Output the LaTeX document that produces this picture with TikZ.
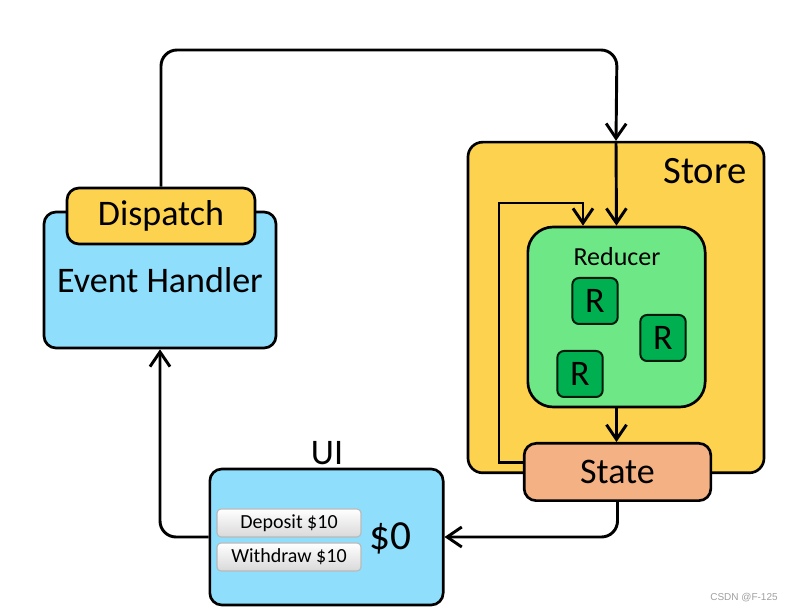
\documentclass[tikz,border=0pt]{standalone}
\usepackage{fontspec}
\setmainfont{Carlito}
\newfontfamily\wmfont{Liberation Sans}
\usetikzlibrary{arrows.meta}
\definecolor{ehblue}{HTML}{8EDEFC}
\definecolor{dispyellow}{HTML}{FDD24E}
\definecolor{redgreen}{HTML}{6EE886}
\definecolor{rdark}{HTML}{00B050}
\definecolor{stateorange}{HTML}{F4B183}
\begin{document}
\begin{tikzpicture}[x=0.75pt, y=-0.75pt,
    box/.style={draw, line width=2pt, rounded corners=9pt, inner sep=0pt},
    flow/.style={line width=2.2pt, rounded corners=12pt, -{Straight Barb[length=11pt,width=15pt]}},
    btn/.style={draw=gray!55, line width=0.8pt, rounded corners=3pt, top color=white, bottom color=gray!30,
        minimum width=108pt, minimum height=21pt, inner sep=0pt, font=\fontsize{15}{18}\selectfont},
    rbox/.style={box, fill=rdark, draw=black!85!rdark, line width=1.5pt, rounded corners=5pt,
        minimum width=34pt, minimum height=34.5pt, font=\fontsize{27}{30}\selectfont},
    big/.style={font=\fontsize{27}{30}\selectfont}]
    \useasboundingbox (0,0) rectangle (794,613);

    % Boxes (left side)
    \node[box, fill=ehblue, big, minimum width=174pt, minimum height=102pt] (eh) at (160,280) {Event Handler};
    \node[box, fill=dispyellow, big, minimum width=141pt, minimum height=42pt] (dispatch) at (161,216) {Dispatch};
    \node[box, fill=ehblue, minimum width=175pt, minimum height=102pt] (ui) at (326.5,537) {};
    \node[big] (uilabel) at (327,453) {UI};
    \node[btn] (deposit) at (289,523) {Deposit \$10};
    \node[btn] (withdraw) at (289,557) {Withdraw \$10};
    \node[font=\fontsize{31}{34}\selectfont] (balance) at (390,538) {\$0};

    % Boxes (store)
    \node[box, fill=dispyellow, rounded corners=11pt, minimum width=222pt, minimum height=248pt] (store) at (616,307.5) {};
    \node[font=\fontsize{29}{32}\selectfont] (storelabel) at (705,171) {Store};
    \node[box, fill=redgreen, rounded corners=19pt, minimum width=133pt, minimum height=135pt] (reducer) at (616.5,317) {};
    \node[font=\fontsize{19.5}{22}\selectfont] (reducerlabel) at (617,257) {Reducer};
    \node[rbox] (r1) at (595,301) {R};
    \node[rbox] (r2) at (663,338) {R};
    \node[rbox] (r3) at (580,374) {R};
    \node[box, fill=stateorange, big, minimum width=140pt, minimum height=43pt] (state) at (617.5,472) {State};

    % Turning points
    \coordinate (top) at (617,50);
    \coordinate (fbleft) at (499,203);
    \coordinate (fbtop) at (583,203);

    % Edges
    \draw[flow] (dispatch.north) |- (top) -- (store.north);
    \draw[flow] (store.north) -- (reducer.north);
    \draw[flow] (reducer.south) -- (state.north -| reducer.south);
    \draw[flow, rounded corners=0pt] ([yshift=7pt]state.west) -| (fbleft) -- (fbtop) -- (fbtop |- reducer.north);
    \draw[flow] (state.south) |- (ui.east);
    \draw[flow] (ui.west) -| (eh.south);

    % Watermark
    \node[text=gray!75, font=\wmfont\fontsize{7.5}{9}\selectfont] (mark) at (744,598) {CSDN @F-125};
\end{tikzpicture}
\end{document}
